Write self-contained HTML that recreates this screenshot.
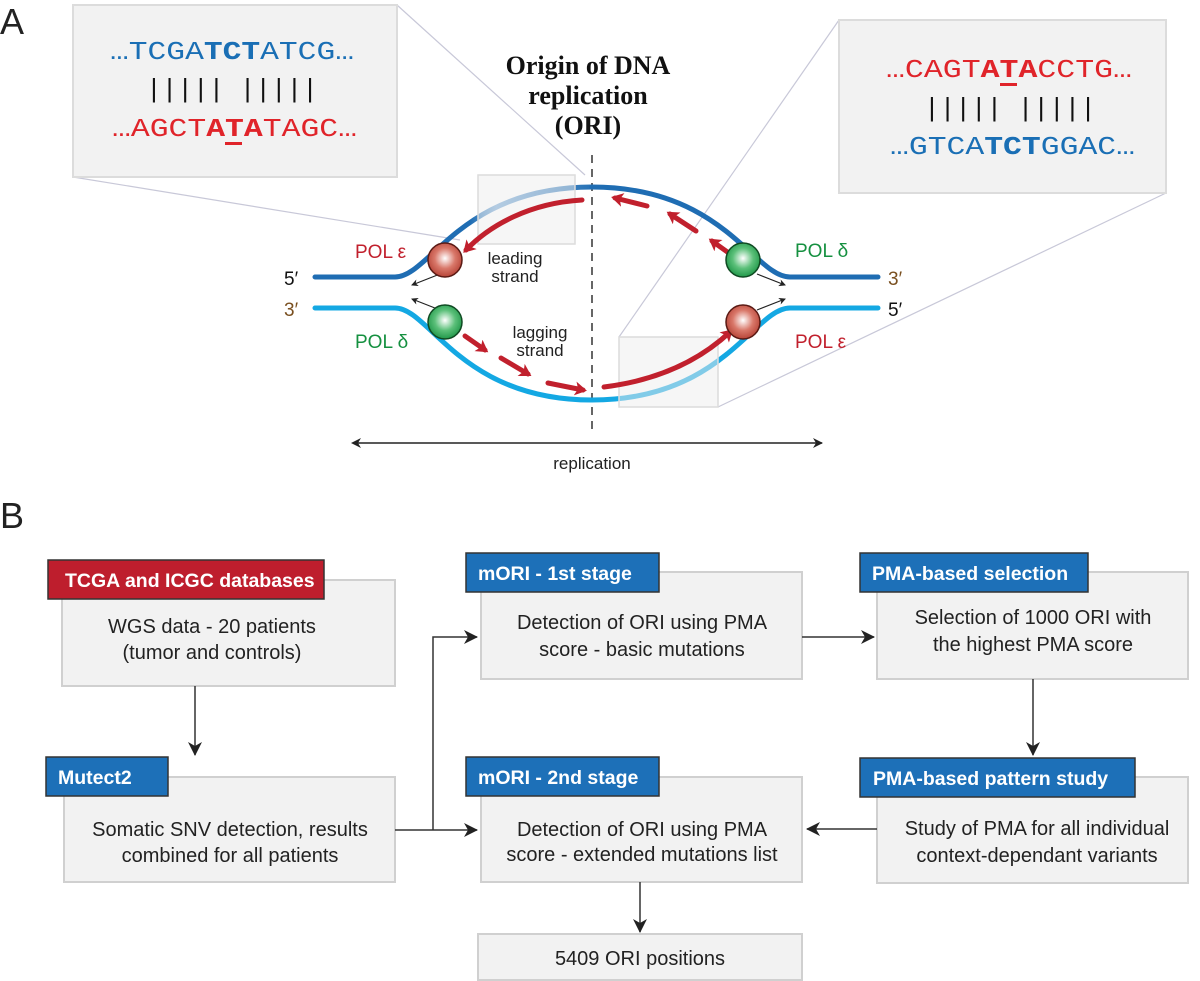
<!DOCTYPE html>
<html><head><meta charset="utf-8"><style>
body{margin:0;background:#fff}
svg{display:block}
.sans{font-family:"Liberation Sans",sans-serif}
.mono{font-family:"Liberation Mono",monospace}
.serif{font-family:"Liberation Serif",serif}
</style></head><body>
<svg width="1200" height="981" viewBox="0 0 1200 981" xmlns="http://www.w3.org/2000/svg">
<defs>
<radialGradient id="rb" cx="0.5" cy="0.45" r="0.6"><stop offset="0" stop-color="#fff"/><stop offset="0.5" stop-color="#d9786a"/><stop offset="1" stop-color="#b03a2e"/></radialGradient>
<radialGradient id="gb" cx="0.5" cy="0.45" r="0.6"><stop offset="0" stop-color="#fff"/><stop offset="0.5" stop-color="#5cc07a"/><stop offset="1" stop-color="#159040"/></radialGradient>
<linearGradient id="tg" x1="470" y1="0" x2="600" y2="0" gradientUnits="userSpaceOnUse"><stop offset="0" stop-color="#1f6db3"/><stop offset="0.2" stop-color="#7aaad6"/><stop offset="1" stop-color="#1f6db3"/></linearGradient>
<marker id="ah" markerWidth="14" markerHeight="14" refX="13" refY="7" orient="auto" markerUnits="userSpaceOnUse"><path d="M0,0 L14,7 L0,14 L4,7z" fill="#222"/></marker>
<marker id="sa" markerWidth="7" markerHeight="7" refX="6" refY="3.5" orient="auto" markerUnits="userSpaceOnUse"><path d="M0,0 L7,3.5 L0,7 L2,3.5z" fill="#222"/></marker>
<marker id="rh" markerWidth="10" markerHeight="10" refX="9" refY="5" orient="auto" markerUnits="userSpaceOnUse"><path d="M0,0 L10,5 L0,10 L3,5z" fill="#222"/></marker>
<marker id="ra" markerWidth="14" markerHeight="14" refX="8" refY="7" orient="auto" markerUnits="userSpaceOnUse"><path d="M0,0 L12,7 L0,14 L3,7z" fill="#c1202d"/></marker>
</defs>

<text x="0" y="34" class="sans" font-size="36" fill="#222">A</text>
<text x="0" y="528" class="sans" font-size="36" fill="#222">B</text>

<g stroke="#c8c8d8" stroke-width="1.2" fill="none">
<line x1="397" y1="5" x2="585" y2="175"/>
<line x1="73" y1="177" x2="460" y2="240"/>
<line x1="839" y1="20" x2="619" y2="337"/>
<line x1="1166" y1="193" x2="718" y2="407"/>
</g>

<rect x="73" y="5" width="324" height="172" fill="#f2f2f2" stroke="#dcdcdc" stroke-width="2"/>
<rect x="839" y="20" width="327" height="173" fill="#f2f2f2" stroke="#dcdcdc" stroke-width="2"/>

<text x="110" y="59" textLength="244" lengthAdjust="spacingAndGlyphs" class="mono" font-size="26" fill="#1a6fb5">…TCGA<tspan font-weight="bold">TCT</tspan>ATCG…</text>
<text x="232" y="97" text-anchor="middle" class="mono" font-size="26" fill="#111">||||| |||||</text>
<text x="112" y="136" textLength="245" lengthAdjust="spacingAndGlyphs" class="mono" font-size="26" fill="#e0242a">…AGCT<tspan font-weight="bold">ATA</tspan>TAGC…</text>
<rect x="225" y="142" width="17" height="3" fill="#e0242a"/>

<text x="886" y="77" textLength="246" lengthAdjust="spacingAndGlyphs" class="mono" font-size="26" fill="#e0242a">…CAGT<tspan font-weight="bold">ATA</tspan>CCTG…</text>
<rect x="1000" y="83" width="17" height="3" fill="#e0242a"/>
<text x="1010" y="116" text-anchor="middle" class="mono" font-size="26" fill="#111">||||| |||||</text>
<text x="890" y="154" textLength="245" lengthAdjust="spacingAndGlyphs" class="mono" font-size="26" fill="#1a6fb5">…GTCA<tspan font-weight="bold">TCT</tspan>GGAC…</text>

<g class="serif" font-weight="bold" font-size="26" fill="#111" text-anchor="middle">
<text x="588" y="74">Origin of DNA</text>
<text x="588" y="104">replication</text>
<text x="588" y="134">(ORI)</text>
</g>

<line x1="592" y1="155" x2="592" y2="432" stroke="#333" stroke-width="1.5" stroke-dasharray="8,6"/>

<path d="M315,277 L395,277 C430,277 460,187 592,187" fill="none" stroke="url(#tg)" stroke-width="5" stroke-linecap="round"/>
<path d="M592,187 C724,187 754,277 790,277 L878,277" fill="none" stroke="#1f6db3" stroke-width="5" stroke-linecap="round"/>
<path d="M315,308 L395,308 C430,308 460,400 592,400 C724,400 754,308 790,308 L878,308" fill="none" stroke="#14a8e3" stroke-width="5" stroke-linecap="round"/>

<rect x="478" y="175" width="97" height="69" fill="#eeeeee" fill-opacity="0.5" stroke="#dcdcdc" stroke-width="1.5"/>
<rect x="619" y="337" width="99" height="70" fill="#eeeeee" fill-opacity="0.5" stroke="#dcdcdc" stroke-width="1.5"/>

<g stroke="#c1202d" stroke-width="5" fill="none" stroke-linecap="round">
<path d="M582,200 C530,203 490,225 466,250" marker-end="url(#ra)"/>
<path d="M647,206 L615,198" marker-end="url(#ra)"/>
<path d="M696,231 L670,214" marker-end="url(#ra)"/>
<path d="M733,256 L712,241" marker-end="url(#ra)"/>
<path d="M465,336 L485,350" marker-end="url(#ra)"/>
<path d="M501,358 L528,374" marker-end="url(#ra)"/>
<path d="M548,383 L583,390" marker-end="url(#ra)"/>
<path d="M604,387 C660,380 700,360 730,332" marker-end="url(#ra)"/>
</g>

<g stroke="#222" stroke-width="1.2">
<line x1="440" y1="274" x2="412" y2="285" marker-end="url(#sa)"/>
<line x1="440" y1="310" x2="412" y2="299" marker-end="url(#sa)"/>
<line x1="757" y1="274" x2="785" y2="285" marker-end="url(#sa)"/>
<line x1="757" y1="310" x2="785" y2="299" marker-end="url(#sa)"/>
</g>

<circle cx="445" cy="260" r="17" fill="url(#rb)" stroke="#5a1a14" stroke-width="1.5"/>
<circle cx="445" cy="322" r="17" fill="url(#gb)" stroke="#0f4a22" stroke-width="1.5"/>
<circle cx="743" cy="260" r="17" fill="url(#gb)" stroke="#0f4a22" stroke-width="1.5"/>
<circle cx="743" cy="322" r="17" fill="url(#rb)" stroke="#5a1a14" stroke-width="1.5"/>

<g class="sans" font-size="19">
<text x="355" y="258" fill="#c1202d">POL ε</text>
<text x="355" y="348" fill="#159040">POL δ</text>
<text x="795" y="257" fill="#159040">POL δ</text>
<text x="795" y="348" fill="#c1202d">POL ε</text>
<text x="284" y="285" fill="#111">5′</text>
<text x="284" y="316" fill="#7a5020">3′</text>
<text x="888" y="285" fill="#7a5020">3′</text>
<text x="888" y="316" fill="#111">5′</text>
</g>
<g class="sans" font-size="17" fill="#222" text-anchor="middle">
<text x="515" y="264">leading</text>
<text x="515" y="282">strand</text>
<text x="540" y="338">lagging</text>
<text x="540" y="356">strand</text>
<text x="592" y="469">replication</text>
</g>

<line x1="355" y1="443" x2="822" y2="443" stroke="#222" stroke-width="1.5" marker-end="url(#rh)"/>
<path d="M351,443 L361,438 L358,443 L361,448z" fill="#222"/>

<g fill="#f2f2f2" stroke="#d0d0d0" stroke-width="2">
<rect x="62" y="580" width="333" height="106"/>
<rect x="64" y="777" width="331" height="105"/>
<rect x="481" y="572" width="321" height="107"/>
<rect x="481" y="777" width="321" height="105"/>
<rect x="877" y="572" width="311" height="107"/>
<rect x="877" y="777" width="311" height="106"/>
<rect x="478" y="934" width="324" height="46"/>
</g>
<g stroke="#333" stroke-width="1.5">
<rect x="48" y="560" width="276" height="39" fill="#be1e2d"/>
<rect x="46" y="757" width="122" height="39" fill="#1d70b8"/>
<rect x="466" y="553" width="193" height="39" fill="#1d70b8"/>
<rect x="466" y="757" width="193" height="39" fill="#1d70b8"/>
<rect x="860" y="553" width="228" height="39" fill="#1d70b8"/>
<rect x="860" y="758" width="275" height="39" fill="#1d70b8"/>
</g>
<g class="sans" font-weight="bold" font-size="19.5" fill="#fff">
<text x="65" y="587">TCGA and ICGC databases</text>
<text x="58" y="784">Mutect2</text>
<text x="478" y="580">mORI - 1st stage</text>
<text x="478" y="784">mORI - 2nd stage</text>
<text x="872" y="580">PMA-based selection</text>
<text x="873" y="785">PMA-based pattern study</text>
</g>
<g class="sans" font-size="20" fill="#222" text-anchor="middle">
<text x="212" y="633">WGS data - 20 patients</text>
<text x="212" y="659">(tumor and controls)</text>
<text x="230" y="836">Somatic SNV detection, results</text>
<text x="230" y="862">combined for all patients</text>
<text x="642" y="629">Detection of ORI using PMA</text>
<text x="642" y="656">score - basic mutations</text>
<text x="1033" y="624">Selection of 1000 ORI with</text>
<text x="1033" y="651">the highest PMA score</text>
<text x="642" y="836">Detection of ORI using PMA</text>
<text x="642" y="861">score - extended mutations list</text>
<text x="1037" y="835">Study of PMA for all individual</text>
<text x="1037" y="862">context-dependant variants</text>
<text x="640" y="965">5409 ORI positions</text>
</g>
<g stroke="#333" stroke-width="1.5" fill="none">
<line x1="195" y1="686" x2="195" y2="755" marker-end="url(#ah)"/>
<line x1="395" y1="830" x2="477" y2="830" marker-end="url(#ah)"/>
<polyline points="433,830 433,637 477,637" marker-end="url(#ah)"/>
<line x1="802" y1="637" x2="874" y2="637" marker-end="url(#ah)"/>
<line x1="1033" y1="679" x2="1033" y2="755" marker-end="url(#ah)"/>
<line x1="877" y1="829" x2="807" y2="829" marker-end="url(#ah)"/>
<line x1="640" y1="882" x2="640" y2="932" marker-end="url(#ah)"/>
</g>
</svg>
</body></html>
